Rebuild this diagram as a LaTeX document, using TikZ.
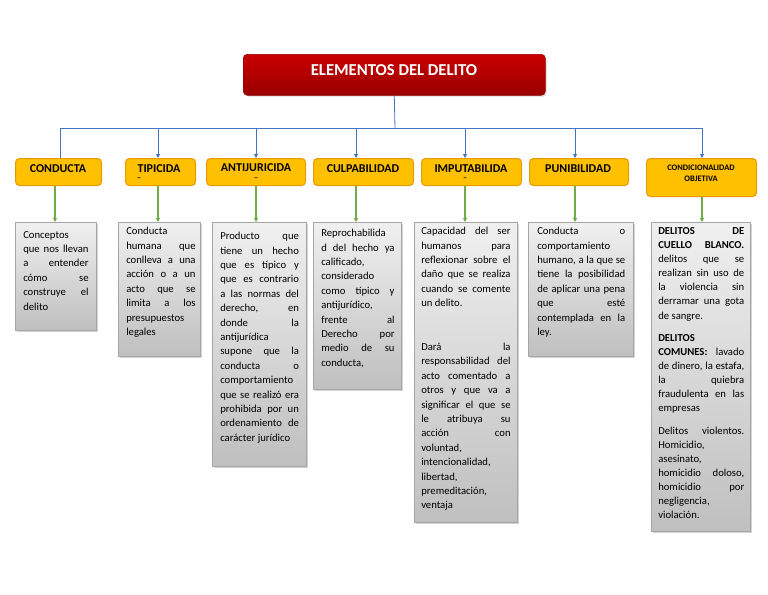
\documentclass[tikz,border=0pt]{standalone}
\usepackage{fontspec}
\setmainfont{Carlito}
\usetikzlibrary{shadows,arrows.meta}
\definecolor{yel}{HTML}{FFC000}
\definecolor{yelb}{HTML}{E69A00}
\definecolor{dred}{HTML}{C00000}
\definecolor{blu}{HTML}{4472C4}
\definecolor{grn}{HTML}{70AD47}
\tikzset{
 ybox/.style={draw=yelb,fill=yel,rounded corners=3pt,line width=0.8pt,anchor=north west,inner sep=0pt},
 ylab/.style={inner sep=0pt,font=\bfseries\fontsize{9}{9}\selectfont,align=center},
 gbox/.style={draw=gray!70,top color=gray!12,bottom color=gray!50,anchor=north west,inner sep=0pt,
   drop shadow={shadow xshift=1.2pt,shadow yshift=-1.2pt,opacity=0.35}},
 gtxt/.style={anchor=north west,inner sep=0pt,align=justify,font=\fontsize{8}{10.8}\selectfont},
 barr/.style={draw=blu,line width=0.6pt,-{Triangle[length=3pt,width=3pt]}},
 garr/.style={draw=grn,line width=0.9pt,-{Triangle[length=3pt,width=3pt]}},
}
\begin{document}
\begin{tikzpicture}[x=0.75pt,y=-0.75pt]
\useasboundingbox (0,0) rectangle (768,594);
\node[draw=red!60!black,top color=dred!85!red,bottom color=dred!80!black,rounded corners=3pt,anchor=north west,
  minimum width=302*0.75pt,minimum height=41*0.75pt,inner sep=0pt,
  drop shadow={shadow xshift=1pt,shadow yshift=-1pt,opacity=0.3}] (t) at (243,54) {};
\node[inner sep=0pt,text=white,font=\bfseries\fontsize{12.5}{13}\selectfont] (tt) at (394,70) {ELEMENTOS DEL DELITO};
% yellow boxes
\node[ybox,minimum width=86*0.75pt,minimum height=27*0.75pt] (y1) at (15,158) {};
\node[ybox,minimum width=70*0.75pt,minimum height=27*0.75pt] (y2) at (125,158) {};
\node[ybox,minimum width=99*0.75pt,minimum height=27*0.75pt] (y3) at (206,158) {};
\node[ybox,minimum width=100*0.75pt,minimum height=27*0.75pt] (y4) at (313,158) {};
\node[ybox,minimum width=100*0.75pt,minimum height=27*0.75pt] (y5) at (421,158) {};
\node[ybox,minimum width=99*0.75pt,minimum height=27*0.75pt] (y6) at (529,158) {};
\node[ybox,minimum width=110*0.75pt,minimum height=38*0.75pt] (y7) at (646,158) {};
\node[ylab] (l1) at (58,169) {CONDUCTA};
\node[ylab] (l2) at (159,169) {TIPICIDA};
\node[ylab] (d2) at (139,179) {\fontsize{6}{6}\selectfont\bfseries –};
\node[ylab] (l3) at (256,168) {ANTIJURICIDA};
\node[ylab] (d3) at (256,179) {\fontsize{6}{6}\selectfont\bfseries –};
\node[ylab] (l4) at (363,169) {CULPABILIDAD};
\node[ylab] (l5) at (471,169) {IMPUTABILIDA};
\node[ylab] (d5) at (465,179) {\fontsize{6}{6}\selectfont\bfseries –};
\node[ylab] (l6) at (578,169) {PUNIBILIDAD};
\node[ylab,font=\bfseries\fontsize{6.3}{8}\selectfont] (l7) at (701,173) {CONDICIONALIDAD\\OBJETIVA};
% connectors
\coordinate (hl) at (60,128); \coordinate (hr) at (702,128);
\draw[blu,line width=0.6pt] (t.south) -- (395,128);
\draw[blu,line width=0.6pt] (hl) -- (hr);
\draw[blu,line width=0.6pt] (hl) -- (y1.north -| hl);
\foreach \n/\x in {y2/158,y3/256,y4/356,y5/465,y6/575,y7/702}{
  \draw[barr] (\x,128) -- (\n.north -| {(\x,0)});
}
% gray boxes
\node[gbox,minimum width=81*0.75pt,minimum height=108*0.75pt] (g1) at (15,222) {};
\node[gbox,minimum width=82*0.75pt,minimum height=134*0.75pt] (g2) at (118,222) {};
\node[gbox,minimum width=94*0.75pt,minimum height=244*0.75pt] (g3) at (212,222) {};
\node[gbox,minimum width=88*0.75pt,minimum height=167*0.75pt] (g4) at (313,222) {};
\node[gbox,minimum width=103*0.75pt,minimum height=300*0.75pt] (g5) at (414,222) {};
\node[gbox,minimum width=105*0.75pt,minimum height=134*0.75pt] (g6) at (528,222) {};
\node[gbox,minimum width=99*0.75pt,minimum height=309*0.75pt] (g7) at (651,222) {};
\foreach \a/\b/\x in {y1/g1/55,y2/g2/158,y3/g3/256,y4/g4/356,y5/g5/465,y6/g6/575,y7/g7/702}{
  \draw[garr] (\a.south -| {(\x,0)}) -- (\b.north -| {(\x,0)});
}
% texts
\node[gtxt,text width=49pt] (x1) at (23,231) {Conceptos\linebreak que nos llevan\linebreak a entender\linebreak cómo se\linebreak construye el\linebreak delito};
\node[gtxt,text width=52pt] (x2) at (126,227) {Conducta\linebreak humana que\linebreak conlleva a una\linebreak acción o a un\linebreak acto que se\linebreak limita a los\linebreak presupuestos\linebreak legales};
\node[gtxt,text width=59pt] (x3) at (220,232) {Producto que\linebreak tiene un hecho\linebreak que es típico y\linebreak que es contrario\linebreak a las normas del\linebreak derecho, en\linebreak donde la\linebreak antijurídica\linebreak supone que la\linebreak conducta o\linebreak comportamiento\linebreak que se realizó era\linebreak prohibida por un\linebreak ordenamiento de\linebreak carácter jurídico};
\node[gtxt,text width=55pt] (x4) at (321,229) {Reprochabilida\linebreak d del hecho ya\linebreak calificado,\linebreak considerado\linebreak como típico y\linebreak antijurídico,\linebreak frente al\linebreak Derecho por\linebreak medio de su\linebreak conducta,};
\node[gtxt,text width=67pt] (x5) at (421,227) {Capacidad del ser\linebreak humanos para\linebreak reflexionar sobre el\linebreak daño que se realiza\linebreak cuando se comente\linebreak un delito.\par\vspace{22pt}Dará la\linebreak responsabilidad del\linebreak acto comentado a\linebreak otros y que va a\linebreak significar el que se\linebreak le atribuya su\linebreak acción con\linebreak voluntad,\linebreak intencionalidad,\linebreak libertad,\linebreak premeditación,\linebreak ventaja};
\node[gtxt,text width=66pt] (x6) at (537,227) {Conducta o\linebreak comportamiento\linebreak humano, a la que se\linebreak tiene la posibilidad\linebreak de aplicar una pena\linebreak que esté\linebreak contemplada en la\linebreak ley.};
\node[gtxt,text width=64.5pt,font=\fontsize{8}{10.6}\selectfont] (x7) at (658,227) {\textbf{DELITOS DE}\linebreak \textbf{CUELLO BLANCO.}\linebreak delitos que se\linebreak realizan sin uso de\linebreak la violencia sin\linebreak derramar una gota\linebreak de sangre.\par\vspace{6pt}\textbf{DELITOS}\linebreak \textbf{COMUNES:} lavado\linebreak de dinero, la estafa,\linebreak la quiebra\linebreak fraudulenta en las\linebreak empresas\par\vspace{6pt}Delitos violentos.\linebreak Homicidio,\linebreak asesinato,\linebreak homicidio doloso,\linebreak homicidio por\linebreak negligencia,\linebreak violación.};
\end{tikzpicture}
\end{document}
